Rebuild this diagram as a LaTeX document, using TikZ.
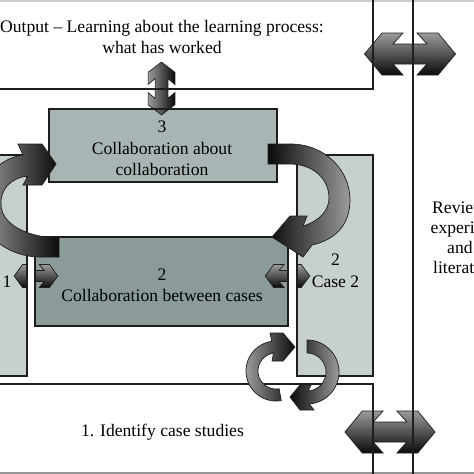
\documentclass[tikz,border=0pt]{standalone}
\usepackage{fontspec}
\setmainfont{Liberation Serif}
\definecolor{boxthree}{RGB}{168,181,180}
\definecolor{boxtwo}{RGB}{139,155,153}
\definecolor{casefill}{RGB}{198,208,206}
\definecolor{edge}{RGB}{30,30,30}
\definecolor{arrlight}{RGB}{155,155,155}
\definecolor{arrdark}{RGB}{10,10,10}
\definecolor{topbar}{RGB}{205,205,205}
\definecolor{botbar}{RGB}{150,150,150}
\newcommand\dblarr[4]{%
  \begin{scope}[shift={(#1,#2)},xscale=#3,yscale=#4]
    \shade[blockarrow,top color=arrlight,bottom color=arrdark]
      (-45.5,0) -- (-28,-21) -- (-7,-21) -- (-17,-10) -- (17,-10) -- (7,-21) -- (28,-21) -- (45.5,0) -- (28,21) -- (7,21) -- (17,10) -- (-17,10) -- (-7,21) -- (-28,21) -- cycle;
  \end{scope}}
\begin{document}
\begin{tikzpicture}[x=1pt,y=-1pt,
  frame/.style={draw=edge,line width=1.1pt},
  boxnode/.style={frame,rectangle,inner sep=0pt,outer sep=0pt},
  txt/.style={font=\fontsize{17.6}{21}\selectfont,inner sep=0pt,text=black},
  blockarrow/.style={draw=edge,line width=0.7pt,line join=miter}]
\useasboundingbox (0,0) rectangle (474,474);
\clip (0,0) rectangle (474,474);
\fill[white] (0,0) rectangle (474,474);
% boxes
\node[boxnode,fill=white,minimum width=413pt,minimum height=129pt] (outbox) at (166.5,24.5) {};
\node[boxnode,fill=white,minimum width=413pt,minimum height=136pt] (botbox) at (166.5,452) {};
\node[boxnode,fill=white,minimum width=107pt,minimum height=560pt] (revbox) at (466.5,240) {};
\node[boxnode,fill=casefill,minimum width=67pt,minimum height=221pt] (case1) at (-6.5,265.5) {};
\node[boxnode,fill=casefill,minimum width=76pt,minimum height=221pt] (case2) at (335,265.5) {};
\node[boxnode,fill=boxthree,minimum width=228pt,minimum height=73pt] (b3) at (163,145.5) {};
\node[boxnode,fill=boxtwo,minimum width=253pt,minimum height=89pt] (b2) at (161.5,281.5) {};
% bars
\fill[topbar] (0,0) rectangle (474,2.2);
\fill[botbar] (0,471.6) rectangle (474,474);
% texts
\node[txt,anchor=base] (t1) at (162,32) {Output – Learning about the learning process:};
\node[txt,anchor=base] (t2) at (162,53) {what has worked};
\node[txt,anchor=base] (t3a) at (162,132) {3};
\node[txt,anchor=base] (t3b) at (162,154) {Collaboration about};
\node[txt,anchor=base] (t3c) at (162,175.5) {collaboration};
\node[txt,anchor=base] (t2a) at (162,280) {2};
\node[txt,anchor=base] (t2b) at (162,301) {Collaboration between cases};
\node[txt,anchor=base] (c2a) at (335.5,265) {2};
\node[txt,anchor=base] (c2b) at (335.5,287) {Case 2};
\node[txt,anchor=base east] (c1b) at (11.5,287) {Case 1};
\node[txt,anchor=base] (t1s) at (162.5,436) {1. Identify case studies};
\node[txt,anchor=base west] (r1) at (432,213) {Review};
\node[txt,anchor=base west] (r2) at (430.5,233) {experience};
\node[txt,anchor=base west] (r3) at (447,253) {and};
\node[txt,anchor=base west] (r4) at (433,273) {literature};
% big curved arrow right (3 -> 2)
\shade[blockarrow,left color=arrdark,right color=arrlight]
  (268,144) -- (290,144) .. controls (325,144) and (350,170) .. (350,200)
  .. controls (350,225) and (335,240) .. (312,245) -- (303,257) -- (272,237)
  -- (290,216) -- (307,216) -- (303,226) .. controls (320,221) and (329,210) .. (329,198)
  .. controls (329,178) and (312,164) .. (290,164) -- (268,164) -- cycle;
% big curved arrow left (2 -> 3)
\shade[blockarrow,left color=arrlight,right color=arrdark]
  (59,237) -- (45,237) .. controls (20,233) and (2,222) .. (1,205)
  .. controls (0,190) and (10,178) .. (28,176) -- (23,185) -- (42,185) -- (56,164)
  -- (42,144) -- (18,144) -- (23,155) .. controls (0,158) and (-20,178) .. (-20,205)
  .. controls (-20,237) and (10,257) .. (40,257) -- (59,257) -- cycle;
% circular arrows
\shade[blockarrow,left color=arrlight,right color=arrdark]
  plot[domain=80:262,samples=40] ({276+30*cos(\x)},{371+30*sin(\x)})
  -- (270,333) -- (283,333) -- (295,347) -- (283,361) -- (272,361)
  -- plot[domain=262:80,samples=40] ({276+18*cos(\x)},{371+18*sin(\x)}) -- cycle;
\shade[blockarrow,left color=arrdark,right color=arrlight]
  plot[domain=270:446,samples=40] ({307+32*cos(\x)},{372+32*sin(\x)})
  -- (314,410) -- (300,410) -- (290,397) -- (300,385) -- (311,385)
  -- plot[domain=446:270,samples=40] ({307+19*cos(\x)},{372+19*sin(\x)}) -- cycle;
% double arrows
\dblarr{410}{54}{1}{1}
\dblarr{390}{432}{0.99}{1}
\dblarr{36}{276}{0.48}{0.55}
\dblarr{287.5}{276}{0.49}{0.55}
\begin{scope}[shift={(161.5,88.5)}]
  \shade[blockarrow,left color=arrlight,right color=arrdark]
    (0,-26.4) -- (-13.4,-16.2) -- (-13.4,-4.1) -- (-6.4,-9.9) -- (-6.4,9.9) -- (-13.4,4.1) -- (-13.4,16.2) -- (0,26.4) -- (13.4,16.2) -- (13.4,4.1) -- (6.4,9.9) -- (6.4,-9.9) -- (13.4,-4.1) -- (13.4,-16.2) -- cycle;
\end{scope}
% box edges over the arrows
\draw[frame] (revbox.north west) -- (revbox.south west);
\draw[frame] (outbox.north east) -- (outbox.south east);
\draw[frame] (botbox.north east) -- (botbox.south east);
\draw[frame] (outbox.south west) -- (outbox.south east);
\draw[frame] (b3.north west) -- (b3.north east);
\fill[white] (27.6,263) rectangle (34.4,289);
\fill[white] (288.6,263) rectangle (296.4,289);
\draw[frame] (27,263) -- (27,289);
\draw[frame] (35,263) -- (35,289);
\draw[frame] (288,263) -- (288,289);
\draw[frame] (297,263) -- (297,289);
\end{tikzpicture}
\end{document}
